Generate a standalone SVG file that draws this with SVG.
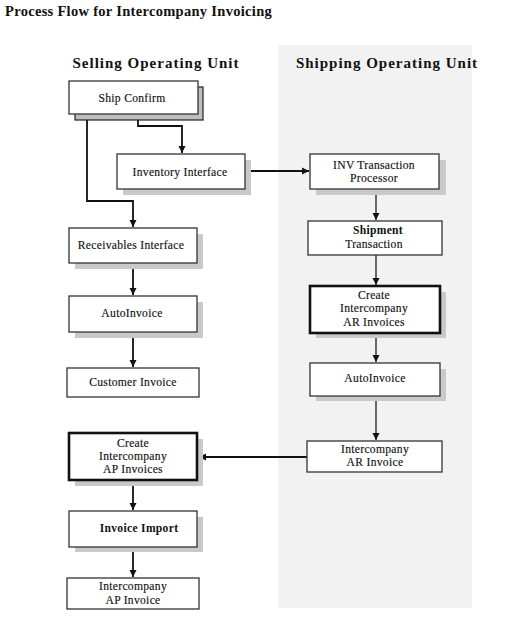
<svg xmlns="http://www.w3.org/2000/svg" width="532" height="632" viewBox="0 0 532 632">
<style>
.t{font-family:"Liberation Serif","Times New Roman",serif;font-size:11.6px;letter-spacing:0.3px;fill:#111;text-anchor:middle;stroke:#111;stroke-width:0.15}
.b{font-weight:bold;stroke-width:0}
.h{font-family:"Liberation Serif","Times New Roman",serif;font-weight:bold;fill:#111}
.box{fill:#fff;stroke:#333;stroke-width:1.3}
.thick{fill:#fff;stroke:#111;stroke-width:2.6}
.sh{fill:#c9c9c9}
.ln{fill:none;stroke:#111;stroke-width:1.8}
.lg{fill:none;stroke:#444;stroke-width:1.6}
</style>
<defs>
<marker id="ah" markerWidth="8" markerHeight="8" refX="7" refY="4" orient="auto" markerUnits="userSpaceOnUse">
<path d="M0,0.5 L7,4 L0,7.5 Z" fill="#111"/>
</marker>
</defs>
<rect width="532" height="632" fill="#fff"/>
<rect x="278" y="45" width="194" height="563" fill="#f2f2f2"/>
<text class="h" x="5" y="16" font-size="14.5" letter-spacing="0.3">Process Flow for Intercompany Invoicing</text>
<text class="h" x="156" y="68" font-size="15" letter-spacing="1" text-anchor="middle">Selling Operating Unit</text>
<text class="h" x="387" y="68" font-size="15" letter-spacing="1" text-anchor="middle">Shipping Operating Unit</text>

<g id="connectors">
<path class="ln" d="M87,114 V201 H133 V227" marker-end="url(#ah)"/>
<path class="ln" d="M138,120 V126 H182 V153" marker-end="url(#ah)"/>
<path class="ln" d="M245,171 H309" marker-end="url(#ah)"/>
<path class="ln" d="M133,263 V295" marker-end="url(#ah)"/>
<path class="ln" d="M133,332 V367" marker-end="url(#ah)"/>
<path class="lg" d="M376,189 V220" marker-end="url(#ah)"/>
<path class="lg" d="M376,255 V285" marker-end="url(#ah)"/>
<path class="lg" d="M376,333 V362" marker-end="url(#ah)"/>
<path class="lg" d="M376,396 V440" marker-end="url(#ah)"/>
<path class="ln" d="M307,457 H199" marker-end="url(#ah)"/>
<path class="ln" d="M133,480 V510" marker-end="url(#ah)"/>
<path class="ln" d="M133,547 V577" marker-end="url(#ah)"/>
</g>

<g id="ship-confirm">
<rect x="75" y="87" width="128" height="33" fill="#bdbdbd" stroke="#222" stroke-width="1.2"/>
<rect class="box" x="69" y="81" width="129" height="33"/>
<text class="t" x="132" y="102">Ship Confirm</text>
</g>
<g id="inventory-interface">
<rect class="sh" x="123" y="160" width="128" height="35"/>
<rect class="box" x="117" y="154" width="128" height="35"/>
<text class="t" x="180" y="176">Inventory Interface</text>
</g>
<g id="inv-transaction-processor">
<rect class="sh" x="316" y="160" width="130" height="35"/>
<rect class="box" x="310" y="154" width="129" height="35"/>
<text class="t" x="374" y="169">INV Transaction</text>
<text class="t" x="374" y="182">Processor</text>
</g>
<g id="receivables-interface">
<rect class="sh" x="75" y="234" width="128" height="35"/>
<rect class="box" x="69" y="228" width="128" height="35"/>
<text class="t" x="131" y="249">Receivables Interface</text>
</g>
<g id="autoinvoice-selling">
<rect class="sh" x="75" y="302" width="128" height="36"/>
<rect class="box" x="69" y="296" width="128" height="36"/>
<text class="t" x="132" y="317">AutoInvoice</text>
</g>
<g id="customer-invoice">
<rect class="box" x="67" y="368" width="132" height="29"/>
<text class="t" x="133" y="386">Customer Invoice</text>
</g>
<g id="shipment-transaction">
<rect class="box" x="308" y="221" width="134" height="34" stroke="#555"/>
<text class="t b" x="378" y="234">Shipment</text>
<text class="t" x="374" y="248">Transaction</text>
</g>
<g id="create-ar-invoices">
<rect class="sh" x="316" y="292" width="130" height="46"/>
<rect class="thick" x="310" y="286" width="130" height="47"/>
<text class="t" x="374" y="299">Create</text>
<text class="t" x="374" y="312">Intercompany</text>
<text class="t" x="374" y="326">AR Invoices</text>
</g>
<g id="autoinvoice-shipping">
<rect class="sh" x="316" y="369" width="130" height="32"/>
<rect class="box" x="310" y="363" width="130" height="33"/>
<text class="t" x="375" y="382">AutoInvoice</text>
</g>
<g id="intercompany-ar-invoice">
<rect class="box" x="307" y="441" width="135" height="31" stroke="#555"/>
<text class="t" x="375" y="453">Intercompany</text>
<text class="t" x="375" y="466">AR Invoice</text>
</g>
<g id="create-ap-invoices">
<rect class="sh" x="75" y="439" width="128" height="47"/>
<rect class="thick" x="69" y="433" width="128" height="47"/>
<text class="t" x="133" y="447">Create</text>
<text class="t" x="133" y="460">Intercompany</text>
<text class="t" x="133" y="473">AP Invoices</text>
</g>
<g id="invoice-import">
<rect class="sh" x="75" y="517" width="128" height="35"/>
<rect class="box" x="69" y="511" width="128" height="36"/>
<text class="t b" x="139" y="532">Invoice Import</text>
</g>
<g id="intercompany-ap-invoice">
<rect class="box" x="67" y="578" width="132" height="31"/>
<text class="t" x="133" y="590">Intercompany</text>
<text class="t" x="133" y="604">AP Invoice</text>
</g>
</svg>
